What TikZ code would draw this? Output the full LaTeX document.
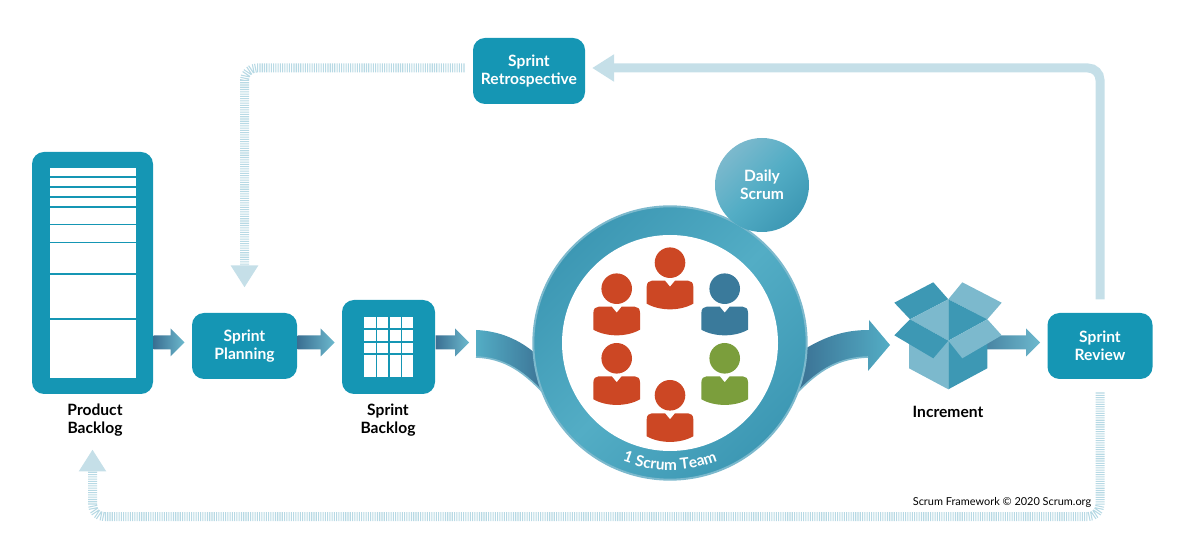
\documentclass[tikz,border=0pt]{standalone}
\usepackage{fontspec}
\setmainfont{Lato}
\usetikzlibrary{arrows.meta,calc,decorations.text}
\definecolor{boxteal}{HTML}{1596B4}
\definecolor{ringdark}{HTML}{3D98B4}
\definecolor{ringlight}{HTML}{53ADC5}
\definecolor{paleedge}{HTML}{7CB9CD}
\definecolor{loopblue}{HTML}{C5DFE8}
\definecolor{hatchblue}{HTML}{B7D9E4}
\definecolor{flowdark}{HTML}{3A6F92}
\definecolor{memberred}{HTML}{CC4724}
\definecolor{memberblue}{HTML}{3A7A9B}
\definecolor{membergreen}{HTML}{7B9E3C}
\tikzset{every picture/.style={line width=0.75pt}}
\tikzset{
  tealbox/.style={draw=none,fill=boxteal,rounded corners=9pt,inner sep=0pt,text=white,align=center,font=\fontsize{11.7}{13.5}\selectfont\bfseries},
  caption/.style={inner sep=0pt,text=black,align=center,font=\fontsize{11.7}{13.5}\selectfont\bfseries},
  solidloop/.style={draw=loopblue,line width=6.75pt,rounded corners=9pt,-{Triangle[width=19.5pt,length=16.5pt,fill=loopblue]}},
  hatchloop/.style={draw=hatchblue,line width=6.75pt,rounded corners=9pt,dash pattern=on 0.8pt off 0.9pt,-{Triangle[width=19.5pt,length=16.5pt,color=loopblue,fill=loopblue]}},
  flowshade/.style={left color=flowdark,right color=ringlight!85!white},
  listline/.style={draw=boxteal,line width=0.9pt},
  gridline/.style={draw=boxteal,line width=1.2pt},
  boxlight/.style={fill=paleedge},
  boxdark/.style={fill=ringdark},
}
\newcommand{\flowarrow}[2]{%
  \shade[flowshade] ($(#1.east |- flowline)+(0,-7)$) -- ($(#2.west |- flowline)+(-21,-7)$) -- ($(#2.west |- flowline)+(-21,-14)$) -- ($(#2.west |- flowline)+(-7,0)$) -- ($(#2.west |- flowline)+(-21,14)$) -- ($(#2.west |- flowline)+(-21,7)$) -- ($(#1.east |- flowline)+(0,7)$) -- cycle ;
}
\newcommand{\teammember}[3]{%
  \fill[#3] (#1,#2) circle (15.3) ;
  \fill[#3,shift={(#1,#2)}] (-23.3,41) -- (-23.3,24) .. controls (-23.3,20) and (-21,18) .. (-18,18) -- (-5,18) -- (0,24) -- (5,18) -- (18,18) .. controls (21,18) and (23.3,20) .. (23.3,24) -- (23.3,41) .. controls (10,48.5) and (-10,48.5) .. (-23.3,41) -- cycle ;
}

\begin{document}
\begin{tikzpicture}[x=0.75pt,y=0.75pt,yscale=-1,xscale=1]
\useasboundingbox (0,0) rectangle (1200,548);

%Boxes
\node[tealbox,minimum width=90.75pt,minimum height=181.5pt] (product) at (92.5,273) {};
\node[tealbox,minimum width=78.75pt,minimum height=49.5pt] (planning) at (244.5,346) {Sprint\\Planning};
\node[tealbox,minimum width=69.75pt,minimum height=70.5pt] (sprintlog) at (388.5,347) {};
\node[tealbox,minimum width=84pt,minimum height=49.5pt] (retro) at (529,71) {Sprint\\Retrospective};
\node[tealbox,minimum width=78.75pt,minimum height=49.5pt] (review) at (1100,346) {Sprint\\Review};

%Captions
\node[caption] (productcap) at (95,420) {Product\\Backlog};
\node[caption] (sprintcap) at (388,420) {Sprint\\Backlog};
\node[caption] (incrementcap) at (948,412) {Increment};
\node[inner sep=0pt,text=black,font=\fontsize{8.2}{9}\selectfont] (credit) at (1002,502) {Scrum Framework © 2020 Scrum.org};

%Product list
\fill[white] (50,168) rectangle (136,378) ;
\draw[listline] (50,177) -- (136,177) ;
\draw[listline] (50,187) -- (136,187) ;
\draw[listline] (50,197) -- (136,197) ;
\draw[listline] (50,207) -- (136,207) ;
\draw[listline] (50,224.5) -- (136,224.5) ;
\draw[listline] (50,242.5) -- (136,242.5) ;
\draw[listline] (50,274) -- (136,274) ;
\draw[listline] (50,319) -- (136,319) ;

%Sprint grid
\fill[white] (364,317) rectangle (413,377) ;
\draw[gridline] (376.5,317) -- (376.5,377) ;
\draw[gridline] (389,317) -- (389,377) ;
\draw[gridline] (401.5,317) -- (401.5,377) ;
\draw[gridline] (364,329) -- (413,329) ;
\draw[gridline] (364,342) -- (413,342) ;
\draw[gridline] (364,354) -- (413,354) ;

%Loop Lines
\coordinate (loopbase) at (600,516.7);
\draw[solidloop,shorten <=9.75pt,shorten >=5pt] (review.north) |- ([yshift=-2.25pt]retro.east) ;
\draw[hatchloop,shorten <=6pt,shorten >=18.75pt] ([yshift=-2.25pt]retro.west) -| (planning.north) ;
\draw[hatchloop,shorten <=9.75pt,shorten >=41.25pt] (review.south) |- (loopbase) -| (product.south) ;

%Flow Arrows
\coordinate (flowline) at (0,342.5);
\coordinate (teamin) at (476,342.5);
\coordinate (boxright) at (965,342.5);
\flowarrow{product}{planning}
\flowarrow{planning}{sprintlog}
\flowarrow{sprintlog}{teamin}
\flowarrow{boxright}{review}

%Curve Lines
\shade[left color=ringlight,right color=flowdark] (476,330) .. controls (500,331) and (520,340) .. (536,354) -- (548,398) .. controls (525,372) and (505,358) .. (476,357) -- cycle ;
\draw[paleedge,line width=1.2pt] (476,357) .. controls (505,358) and (525,372) .. (548,398) ;
\shade[left color=flowdark,right color=ringlight] (800,352) .. controls (825,336) and (845,330) .. (869,330) -- (869,320) -- (890,345) -- (868,371) -- (868,357) .. controls (840,358) and (820,368) .. (795,395) -- cycle ;
\draw[paleedge,line width=1.2pt] (868,357) .. controls (840,358) and (820,368) .. (795,395) ;

%Team Ring
\node[circle,draw=paleedge,line width=1.5pt,top color=ringdark,bottom color=ringdark,middle color=ringlight,shading angle=45,minimum size=205pt,inner sep=0pt] (teamring) at (670,343) {};
\node[circle,fill=white,minimum size=162pt,inner sep=0pt] (teamcore) at (670,343) {};
\path[decorate,decoration={text along path,text align=center,text={|\fontsize{11.5}{13}\selectfont\bfseries\color{white}|1 Scrum Team}}] (670,343) ++(135:127) arc (135:45:127) ;

%Daily Scrum
\node[circle,top color=paleedge,bottom color=ringdark,middle color=ringlight,shading angle=45,minimum size=70.5pt,inner sep=0pt,text=white,align=center,font=\fontsize{11.7}{13.5}\selectfont\bfseries] (daily) at (762,185) {Daily\\Scrum};

%Members
\teammember{670}{262.7}{memberred}
\teammember{616.7}{288.7}{memberred}
\teammember{724.7}{288.7}{memberblue}
\teammember{616.7}{358.3}{memberred}
\teammember{724.7}{358.3}{membergreen}
\teammember{670}{395.3}{memberred}

%Increment Box
\fill[boxdark] (894.3,302.7) -- (933.3,282.3) -- (948.3,299.3) -- (910,319.3) -- cycle ;
\fill[boxlight] (962.3,282.3) -- (1001.7,302.7) -- (987.3,319.3) -- (948.3,299.3) -- cycle ;
\fill[boxlight] (910,319.3) -- (948.3,299.3) -- (948.3,340.7) -- cycle ;
\fill[boxdark] (948.3,299.3) -- (987.3,319.3) -- (948.3,340.7) -- cycle ;
\fill[boxlight] (909,335) -- (948.3,340.7) -- (948.3,389.3) -- (909,368.3) -- cycle ;
\fill[boxdark] (948.3,340.7) -- (987.3,335) -- (987.3,368.3) -- (948.3,389.3) -- cycle ;
\fill[boxdark] (894.3,335.3) -- (910,319.3) -- (948.3,340.7) -- (933.3,358.3) -- cycle ;
\fill[boxlight] (948.3,340.7) -- (987.3,319.3) -- (1001.7,335.3) -- (962.3,358.3) -- cycle ;
\end{tikzpicture}
\end{document}
